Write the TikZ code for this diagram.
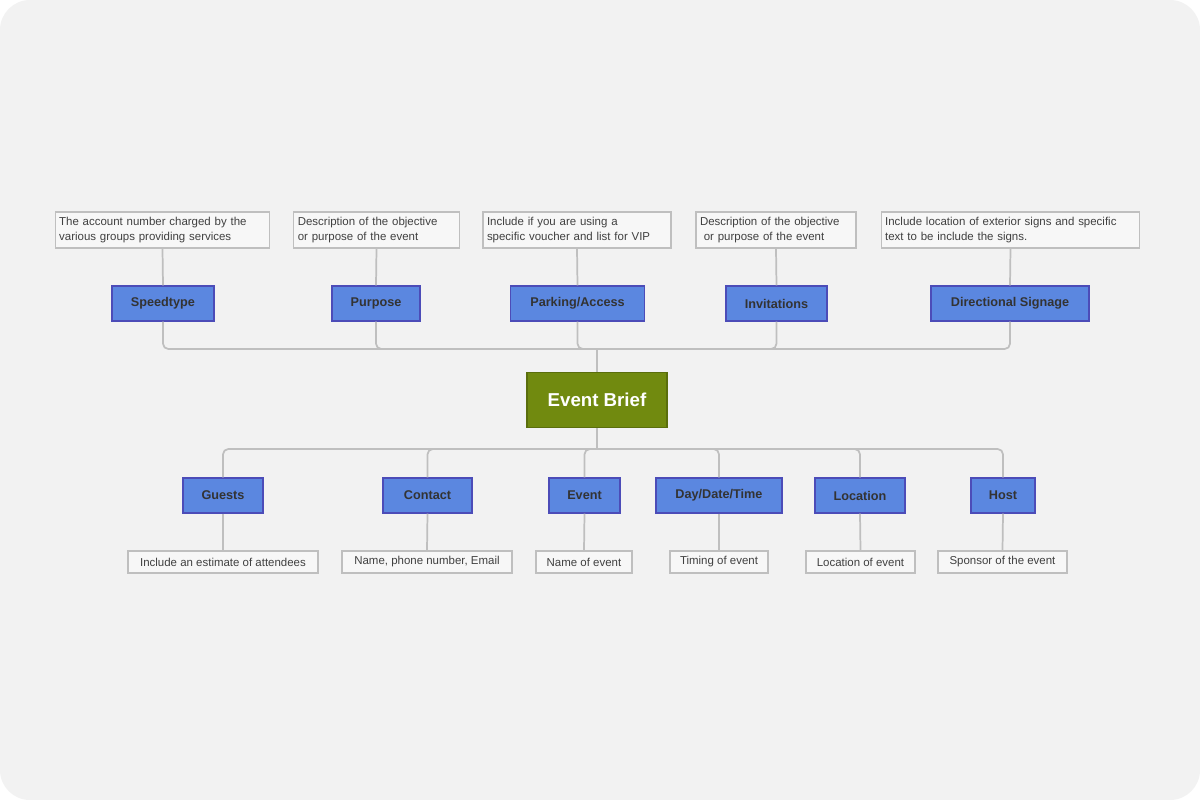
\documentclass[tikz,border=0pt]{standalone}
\usepackage{fontspec}
\setmainfont{Liberation Sans}
\begin{document}
\begin{tikzpicture}[x=0.75pt,y=-0.75pt,
  cat/.style={draw=blue!60!black!70, fill=bluefill, line width=0.8pt, text=black!80, font=\fontsize{9.5}{11}\selectfont\bfseries, minimum height=26.25pt, inner sep=0pt},
  note/.style={draw=black!25, fill=white!97!black, line width=0.8pt, text=black!75, font=\fontsize{8.6}{11}\selectfont, align=left, minimum height=27pt, inner sep=3pt, anchor=center},
  snote/.style={draw=black!25, fill=white!97!black, line width=0.8pt, text=black!75, font=\fontsize{8.6}{11}\selectfont, minimum height=16.5pt, inner sep=2pt},
  ln/.style={draw=black!25, line width=1.3pt, rounded corners=4pt}]
\definecolor{bluefill}{HTML}{5B87E0}
\definecolor{bg}{HTML}{F2F2F2}
\definecolor{olive}{HTML}{718A0F}
\fill[white] (0,0) rectangle (1200,800);
\fill[bg, rounded corners=22.5pt] (0,0) rectangle (1200,800);
% center
\node[draw=olive!80!black, fill=olive, text=white, font=\fontsize{14}{16}\selectfont\bfseries, minimum width=105pt, minimum height=41.25pt, line width=0.8pt] (eb) at (597,400) {Event Brief};
\coordinate (bt) at (597,349);
\coordinate (bb) at (597,449);
% top nodes
\node[cat, minimum width=76.5pt] (sp) at (163,303.5) {Speedtype};
\node[cat, minimum width=66pt] (pu) at (376,303.5) {Purpose};
\node[cat, minimum width=100pt] (pa) at (577.5,303.5) {Parking/Access};
\node[cat, minimum width=75.75pt] (in) at (776.5,303.5) {Invitations};
\node[cat, minimum width=118.5pt] (ds) at (1010,303.5) {Directional Signage};
% top notes
\node[note, minimum width=161pt, text width=155pt] (nsp) at (162.5,230) {The account number charged by the\\various groups providing services};
\node[note, minimum width=123.75pt, text width=118pt] (npu) at (376.5,230) {Description of the objective\\or purpose of the event};
\node[note, minimum width=141pt, text width=135pt] (npa) at (577,230) {Include if you are using a\\specific voucher and list for VIP};
\node[note, minimum width=120pt, text width=114pt] (nin) at (776,230) {Description of the objective\\\ or purpose of the event};
\node[note, minimum width=194pt, text width=188pt] (nds) at (1010.5,230) {Include location of exterior signs and specific\\text to be include the signs.};
% bottom nodes
\node[cat, minimum width=60pt] (gu) at (223,495.5) {Guests};
\node[cat, minimum width=66.75pt] (co) at (427.5,495.5) {Contact};
\node[cat, minimum width=53.25pt] (ev) at (584.5,495.5) {Event};
\node[cat, minimum width=94.5pt] (dt) at (719,495.5) {Day/Date/Time};
\node[cat, minimum width=67.5pt] (lo) at (860,495.5) {Location};
\node[cat, minimum width=48pt] (ho) at (1003,495.5) {Host};
% bottom notes
\node[snote, minimum width=142.5pt] (ngu) at (223,562) {Include an estimate of attendees};
\node[snote, minimum width=127.5pt] (nco) at (427,562) {Name, phone number, Email};
\node[snote, minimum width=72pt] (nev) at (584,562) {Name of event};
\node[snote, minimum width=73.5pt] (ndt) at (719,562) {Timing of event};
\node[snote, minimum width=81.75pt] (nlo) at (860.5,562) {Location of event};
\node[snote, minimum width=96.75pt] (nho) at (1002.5,562) {Sponsor of the event};
% connectors
\begin{scope}[on background layer/.try]
\foreach \n in {sp,pu,pa,in,ds} {
  \draw[ln] (n\n.south) -- (\n.north);
  \draw[ln] (\n.south) |- (bt);
}
\draw[ln] (bt) -- (eb.north);
\draw[ln] (eb.south) -- (bb);
\foreach \n in {gu,co,ev,dt,lo,ho} {
  \draw[ln] (bb) -| (\n.north);
  \draw[ln] (\n.south) -- (n\n.north);
}
\end{scope}
\end{tikzpicture}
\end{document}
